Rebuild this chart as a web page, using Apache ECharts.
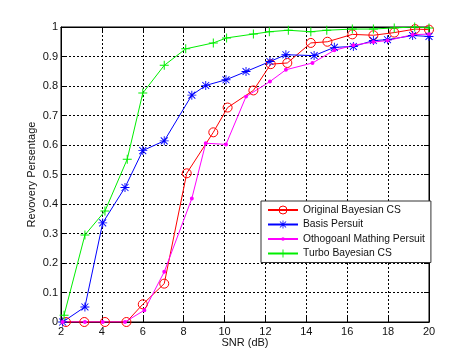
<!DOCTYPE html>
<html><head><meta charset="utf-8">
<script src="https://cdn.jsdelivr.net/npm/echarts@6/dist/echarts.min.js"></script>
<style>html,body{margin:0;padding:0;background:#fff}#c{width:474px;height:361px}</style>
</head><body><div id="c"></div>
<script>
const seriesNames = ['Original Bayesian CS','Basis Persuit','Othogoanl Mathing Persuit','Turbo Bayesian CS'];
const xTicks = [2,4,6,8,10,12,14,16,18,20];
const yTicks = [0,0.1,0.2,0.3,0.4,0.5,0.6,0.7,0.8,0.9,1];

const redX = [2.24,3.14,4.15,5.2,6.0,7.05,8.15,9.45,10.15,11.41,12.26,13.07,14.22,15.03,16.25,17.28,18.3,19.32,20];
const redY = [0,0,0,0,0.060,0.130,0.504,0.643,0.727,0.785,0.874,0.878,0.946,0.950,0.975,0.972,0.981,0.993,0.991];

const blueX = [2.08,3.17,4.04,5.13,6.0,7.05,8.4,9.08,10.07,11.05,12.22,13.0,14.38,15.37,16.3,17.28,17.97,19.2,20];
const blueY = [0,0.051,0.336,0.456,0.581,0.614,0.769,0.802,0.821,0.849,0.883,0.906,0.903,0.931,0.934,0.954,0.957,0.971,0.968];

const magX = [2.08,3.17,4.04,5.13,6.08,7.05,8.4,9.08,10.07,11.05,12.22,13.0,14.3,15.37,16.3,17.28,17.97,19.2,20];
const magY = [0,0,0,0,0.040,0.170,0.419,0.606,0.602,0.764,0.815,0.855,0.878,0.921,0.938,0.949,0.954,0.974,0.976];

const greenX = [2.15,3.17,4.15,5.24,6.0,7.05,8.1,9.45,10.1,11.41,12.19,13.12,14.22,15.0,16.25,17.28,18.3,19.3,20];
const greenY = [0.023,0.295,0.376,0.552,0.776,0.870,0.926,0.946,0.963,0.976,0.984,0.989,0.984,0.989,0.993,0.993,0.997,1.0,0.997];

function pairs(xs, ys){ return xs.map((x,i)=>[x, ys[i]]); }

const plusPath = 'path://M4,0H5V4H9V5H5V9H4V5H0V4H4Z';
const starPath = 'path://M4.5,0H5.5V10H4.5Z M0,4.5H10V5.5H0Z M1.5,0.8L9.2,8.5L8.5,9.2L0.8,1.5Z M8.5,0.8L9.2,1.5L1.5,9.2L0.8,8.5Z';
const dotPath = 'path://M0,0L0.01,0L0,0.01Z M10,10L9.99,10L10,9.99Z M2.8,5A2.2,2.2 0 1,1 7.2,5A2.2,2.2 0 1,1 2.8,5Z';

const font = 'Liberation Sans, Arial, sans-serif';
const chart = echarts.init(document.getElementById('c'), null, {renderer:'canvas'});
const axisCommon = {
  type:'value', min:0, max:1, interval:0.1,
  axisLine:{show:true, lineStyle:{color:'#000', width:1}},
  axisTick:{show:true, inside:true, length:5, lineStyle:{color:'#000'}},
};
chart.setOption({
  animation:false,
  backgroundColor:'#fff',
  textStyle:{fontFamily:font},
  grid:{left:61, right:45, top:27, bottom:39, show:true, borderColor:'#000', borderWidth:1, containLabel:false},
  legend:{
    orient:'vertical', left:261, top:201,
    data:[
      {name:seriesNames[0], itemStyle:{borderWidth:1, color:'rgba(255,255,255,0)', borderColor:'#ff0000'}},
      {name:seriesNames[1]},
      {name:seriesNames[2]},
      {name:seriesNames[3]}
    ],
    itemWidth:30, itemHeight:10, itemGap:4.5,
    padding:[4,6,4,6],
    borderColor:'#333', borderWidth:1, backgroundColor:'#fff',
    textStyle:{fontFamily:font, fontSize:10.3, color:'#111'}
  },
  xAxis:[{
    type:'value', min:2, max:20, interval:2,
    name:'SNR (dB)', nameLocation:'middle', nameGap:15, nameMoveOverlap:false,
    nameTextStyle:{fontFamily:font, fontSize:11, color:'#111'},
    axisLine:{show:true, onZero:false, lineStyle:{color:'#000'}},
    axisTick:{show:true, inside:true, length:5, lineStyle:{color:'#000'}},
    axisLabel:{margin:4, fontSize:11, color:'#111', fontFamily:font, showMinLabel:true, showMaxLabel:true},
    splitLine:{show:true, lineStyle:{color:'#000', type:[2,2], width:1}}
  },{
    type:'value', min:2, max:20, interval:2, position:'top',
    axisLine:{show:true, onZero:false, lineStyle:{color:'#000'}},
    axisTick:{show:true, inside:true, length:5, lineStyle:{color:'#000'}},
    axisLabel:{show:false}, splitLine:{show:false}
  }],
  yAxis:[Object.assign({}, axisCommon, {
    name:'Revovery Persentage', nameLocation:'middle', nameGap:24, nameMoveOverlap:false,
    nameTextStyle:{fontFamily:font, fontSize:11, color:'#111'},
    axisLabel:{margin:3, fontSize:11, color:'#111', fontFamily:font},
    splitLine:{show:true, lineStyle:{color:'#000', type:[2,2], width:1}}
  }), Object.assign({}, axisCommon, {
    position:'right', axisLabel:{show:false}, splitLine:{show:false}
  })],
  series:[
    {name:seriesNames[0], type:'line', data:pairs(redX, redY),
     symbol:'circle', symbolSize:9, lineStyle:{width:1, color:'#ff0000'},
     itemStyle:{color:'rgba(255,255,255,0)', borderColor:'#ff0000', borderWidth:1}},
    {name:seriesNames[1], type:'line', data:pairs(blueX, blueY), color:'#0000ff',
     symbol:starPath, symbolSize:9, lineStyle:{width:1}},
    {name:seriesNames[2], type:'line', data:pairs(magX, magY), color:'#ff00ff',
     symbol:dotPath, symbolSize:9, lineStyle:{width:1}},
    {name:seriesNames[3], type:'line', data:pairs(greenX, greenY), color:'#00ee00',
     symbol:plusPath, symbolSize:9, lineStyle:{width:1}}
  ]
});
</script></body></html>
